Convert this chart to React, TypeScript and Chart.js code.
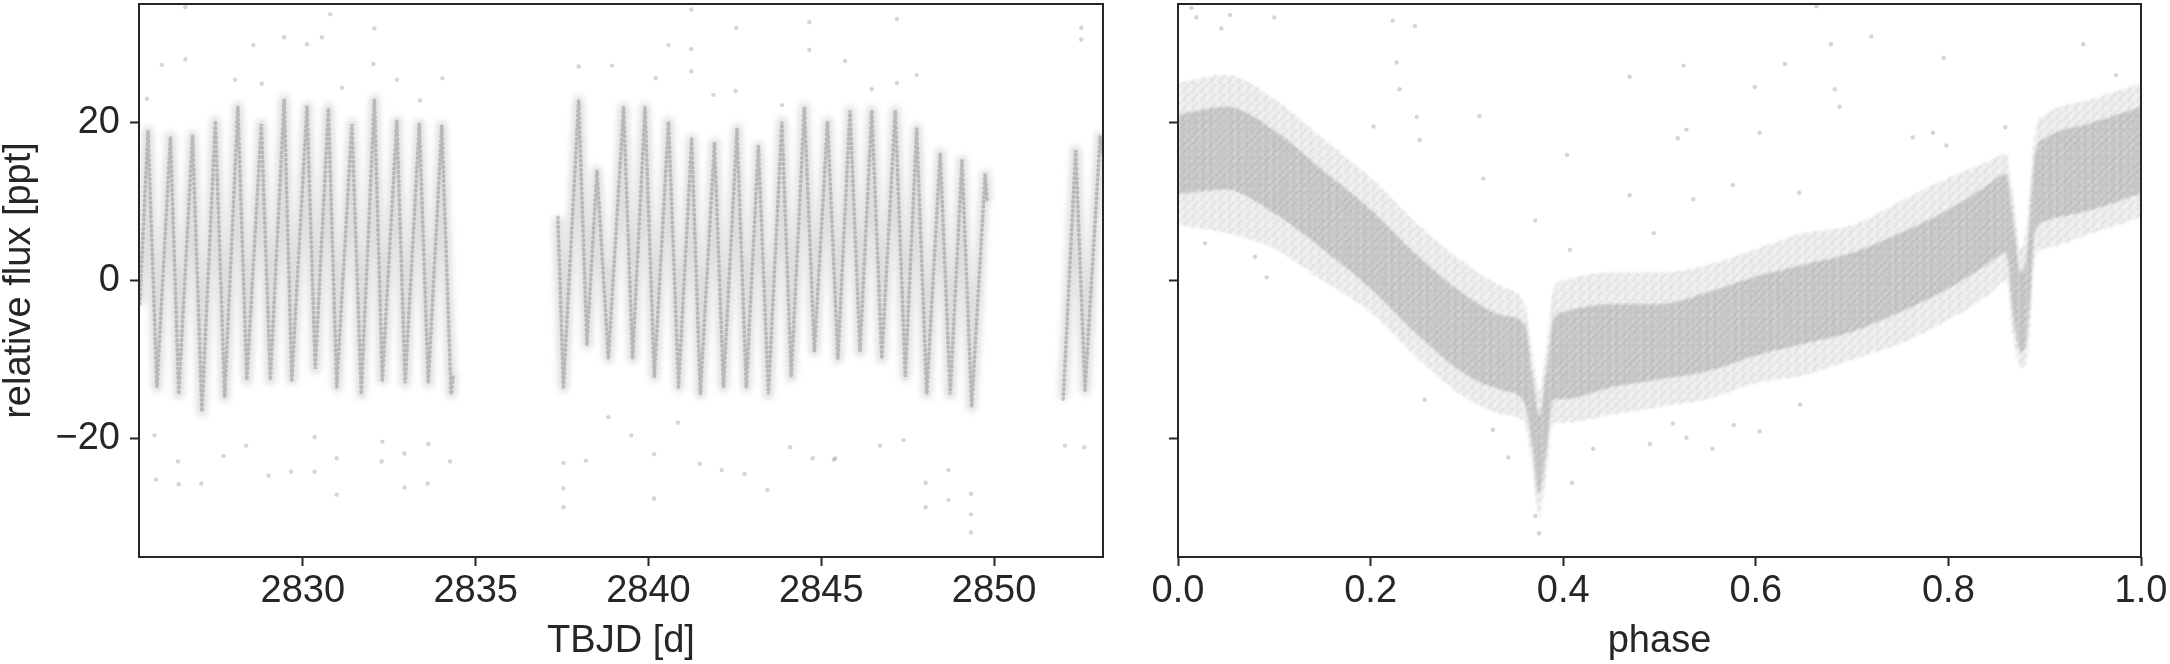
import React, { useEffect, useRef } from 'react';
import { Chart, registerables } from 'chart.js';

// soft-focus helper: registered before the built-ins so it runs before the filler
const blurPlugin = {
  id: 'aaBlurFx',
  beforeDatasetDraw(chart: any, args: any) {
    const ds = chart.data.datasets[args.index];
    if (ds && ds.blurPx) chart.ctx.filter = 'blur(' + ds.blurPx + 'px)';
  },
  afterDatasetDraw(chart: any) {
    chart.ctx.filter = 'none';
  },
};
Chart.register(blurPlugin as any);
Chart.register(...registerables);

// ---------- left panel: light curve (extrema) ----------
const seg1Time = [2825.28, 2825.52, 2825.78, 2826.17, 2826.41, 2826.81, 2827.08, 2827.47, 2827.74, 2828.12, 2828.38, 2828.80, 2829.06, 2829.46, 2829.68, 2830.12, 2830.36, 2830.74, 2830.98, 2831.42, 2831.69, 2832.07, 2832.30, 2832.72, 2832.96, 2833.37, 2833.63, 2834.02, 2834.29, 2834.35];
const seg1Flux = [-3, 18.9, -13.5, 18.2, -14.4, 18.4, -16.6, 20.2, -14.8, 22.0, -12.6, 19.8, -12.6, 22.9, -12.6, 22.0, -11.2, 21.8, -13.5, 19.8, -14.4, 22.9, -12.6, 20.2, -13.0, 19.8, -13.0, 19.6, -14.4, -12];

const seg2Time = [2837.38, 2837.54, 2837.98, 2838.22, 2838.51, 2838.84, 2839.28, 2839.54, 2839.90, 2840.17, 2840.58, 2840.87, 2841.25, 2841.50, 2841.91, 2842.17, 2842.56, 2842.83, 2843.18, 2843.47, 2843.86, 2844.13, 2844.51, 2844.80, 2845.18, 2845.48, 2845.83, 2846.12, 2846.46, 2846.75, 2847.14, 2847.43, 2847.76, 2848.05, 2848.44, 2848.73, 2849.07, 2849.35, 2849.74, 2849.80];
const seg2Flux = [8.0, -13.5, 22.8, -8.1, 13.9, -9.9, 21.9, -9.9, 21.9, -12.2, 20.1, -13.5, 17.9, -14.4, 17.4, -13.5, 19.2, -13.5, 17.0, -14.4, 20.1, -12.2, 21.9, -9.0, 20.1, -9.9, 21.5, -9.0, 21.5, -9.9, 21.5, -12.2, 19.2, -14.4, 16.1, -14.4, 15.2, -16.0, 13.4, 10];

const seg3Time = [2852.00, 2852.36, 2852.63, 2853.07, 2853.15];
const seg3Flux = [-15, 16.5, -13.9, 18.3, 16];

const lcOutTime = [2826.60, 2830.79, 2832.07, 2829.46, 2825.92, 2826.60, 2828.57, 2830.12, 2830.55, 2832.04, 2825.49, 2828.04, 2828.81, 2832.72, 2833.39, 2834.04, 2831.13,
  2825.75, 2826.41, 2827.06, 2827.71, 2828.36, 2829.01, 2829.66, 2830.34, 2830.98, 2832.28, 2832.94, 2833.61, 2834.26, 2825.71, 2826.39, 2830.34, 2830.98, 2832.30, 2832.94, 2833.63,
  2841.24, 2841.24, 2840.58, 2842.54, 2844.65, 2844.65, 2837.98, 2838.94, 2840.21, 2841.24, 2841.88, 2842.52, 2843.86,
  2837.54, 2837.54, 2837.54, 2838.19, 2838.84, 2839.50, 2840.16, 2840.16, 2840.85, 2841.48, 2842.12, 2842.78, 2843.44, 2844.10, 2844.75, 2845.36,
  2847.19, 2845.69, 2847.76, 2847.19, 2852.52, 2852.52, 2846.46,
  2845.40, 2846.70, 2847.38, 2848.02, 2848.02, 2848.68, 2848.68, 2849.33, 2849.33, 2849.33, 2852.05, 2852.61];
const lcOutFlux = [34.6, 33.7, 31.9, 30.8, 27.3, 28.0, 29.8, 29.9, 30.8, 27.4, 23.0, 25.4, 24.9, 25.4, 22.8, 25.6, 24.4,
  -25.2, -25.8, -25.7, -22.2, -20.9, -24.7, -24.2, -24.2, -27.1, -22.9, -26.2, -25.7, -22.9, -19.6, -22.9, -19.8, -22.5, -20.4, -21.9, -20.7,
  34.3, 29.3, 29.8, 32.0, 32.7, 29.2, 27.1, 27.2, 25.6, 26.5, 23.5, 24.0, 22.2,
  -28.7, -26.3, -23.1, -22.8, -17.3, -19.6, -27.6, -22.0, -18.0, -23.2, -24.0, -24.5, -26.5, -21.1, -22.5, -22.7,
  33.1, 27.8, 26.0, 25.0, 30.5, 32.0, 24.2,
  -22.5, -20.9, -20.2, -28.7, -25.6, -27.8, -24.0, -31.9, -29.6, -27.0, -20.9, -21.1];

// ---------- right panel: phase-folded curve ----------
const phaseGrid = [0, 0.05, 0.10, 0.15, 0.20, 0.25, 0.30, 0.34, 0.36, 0.368, 0.375, 0.382, 0.39, 0.40, 0.45, 0.50, 0.55, 0.60, 0.65, 0.70, 0.75, 0.80, 0.84, 0.86, 0.867, 0.875, 0.882, 0.89, 0.90, 0.95, 1.00];
const coreUpper = [21, 22, 19, 14, 9, 3, -2, -4.5, -5.5, -12, -17, -12, -5, -4, -3, -3, -1.5, 0.5, 2, 3.5, 6, 9, 12, 13.5, 8, 1, 4, 16, 18, 20, 22];
const coreLower = [11, 11.5, 8.5, 4, -1, -7, -12, -14, -15.5, -21, -27, -22, -15, -15, -13.5, -12.5, -11.5, -9.5, -8, -6.5, -4, -1, 2, 3.5, -4, -9, -7, 6, 7.5, 9, 11];
const haloUpper = [25, 26, 23, 18, 13, 7, 2, -1, -3, -9, -14, -9, -1, 0, 1, 1, 2, 4, 6, 7, 10, 13, 15, 16, 11, 4, 8, 19, 21, 23, 25];
const haloLower = [7, 6, 4, 0, -4, -10, -15, -17, -18, -24, -30, -25, -18, -18, -17, -16, -15, -13, -12, -10, -8, -5, -2, 0, -7, -11, -10, 3, 4, 6, 8];

const phOutPhase = [0.014, 0.019, 0.054, 0.100, 0.045, 0.223, 0.246, 0.227, 0.230, 0.248, 0.313, 0.203, 0.251, 0.317, 0.404, 0.371, 0.407, 0.469, 0.469, 0.494, 0.092, 0.080, 0.028, 0.256, 0.343, 0.409, 0.431, 0.490, 0.375, 0.371, 0.327,
  0.663, 0.720, 0.678, 0.795, 0.940, 0.974, 0.630, 0.525, 0.599, 0.682, 0.687, 0.519, 0.604, 0.528, 0.763, 0.784, 0.798, 0.859, 0.576, 0.535, 0.645, 0.528, 0.555, 0.604, 0.577, 0.646, 0.514];
const phOutFlux = [34.5, 33.3, 33.6, 33.3, 31.9, 32.9, 32.2, 27.6, 24.2, 20.7, 20.8, 19.5, 17.8, 12.9, 15.9, 7.6, 3.9, 25.8, 10.8, 6.0, 0.4, 3.0, 4.7, -15.1, -22.4, -25.6, -21.3, -20.7, -32.0, -29.8, -18.9,
  34.7, 30.9, 29.9, 28.2, 29.9, 26.0, 27.4, 27.2, 24.5, 24.2, 22.0, 18.0, 18.7, 19.1, 18.1, 18.7, 17.1, 19.4, 12.1, 10.3, 11.1, -19.9, -21.3, -19.1, -18.3, -15.7, -18.1];

// ---------- axes ----------
const timeTicks = [2830, 2835, 2840, 2845, 2850];
const phaseTicks = [0, 0.2, 0.4, 0.6, 0.8, 1.0];
const fluxTicks = [-20, 0, 20];
const timeRange = [2825.26, 2853.15];
const phaseRange = [0, 1];
const fluxRange = [-35, 35];

const INK = '#262626';
const FONT = '"Liberation Sans", Arial, Helvetica, sans-serif';

const zip = (xs: number[], ys: number[]) =>
  xs.slice(0, Math.min(xs.length, ys.length)).map((x, i) => ({ x, y: ys[i] }));

const framePlugin = {
  id: 'frame',
  afterDraw(chart: any) {
    const { ctx, chartArea } = chart;
    const { left, top, right, bottom } = chartArea;
    ctx.save();
    ctx.filter = 'none';
    ctx.strokeStyle = INK;
    ctx.lineWidth = 2;
    ctx.strokeRect(left, top, right - left, bottom - top);
    ctx.restore();
  },
};

function makePattern(size: number, dots: number[][], base: string, dot: string, r: number) {
  const c = document.createElement('canvas');
  c.width = size;
  c.height = size;
  const g = c.getContext('2d')!;
  g.fillStyle = base;
  g.fillRect(0, 0, size, size);
  g.fillStyle = dot;
  for (const [x, y] of dots) {
    g.beginPath();
    g.arc(x, y, r, 0, Math.PI * 2);
    g.fill();
  }
  return g.createPattern(c, 'repeat') as CanvasPattern;
}

function fluxLabel(v: number) {
  return v < 0 ? '\u2212' + Math.abs(v) : String(v);
}

function baseScales(xTicks: number[], xRange: number[], xTitle: string, xFmt: (v: number) => string, yWidth: number, showY: boolean) {
  const tickFont = { family: FONT, size: 38, lineHeight: 1 };
  return {
    x: {
      type: 'linear',
      min: xRange[0],
      max: xRange[1],
      afterBuildTicks: (s: any) => { s.ticks = xTicks.map((v) => ({ value: v })); },
      afterFit: (s: any) => { s.height = 107; s.paddingLeft = 0; s.paddingRight = 0; },
      grid: { display: true, drawOnChartArea: false, drawTicks: true, tickLength: 9, tickWidth: 2, tickColor: INK },
      border: { display: false },
      ticks: { color: INK, font: tickFont, padding: 7, maxRotation: 0, autoSkip: false, callback: (v: any) => xFmt(Number(v)) },
      title: { display: true, text: xTitle, color: INK, font: { family: FONT, size: 38, lineHeight: 1 }, padding: { top: 0, bottom: 3 } },
    },
    y: {
      type: 'linear',
      min: fluxRange[0],
      max: fluxRange[1],
      afterBuildTicks: (s: any) => { s.ticks = fluxTicks.map((v) => ({ value: v })); },
      afterFit: (s: any) => { s.width = yWidth; s.paddingTop = 0; s.paddingBottom = 0; },
      grid: { display: true, drawOnChartArea: false, drawTicks: true, tickLength: 9, tickWidth: 2, tickColor: INK },
      border: { display: false },
      ticks: { display: showY, color: INK, font: tickFont, padding: 10, callback: (v: any) => fluxLabel(Number(v)) },
      title: { display: showY, text: 'relative flux [ppt]', color: INK, font: { family: FONT, size: 38, lineHeight: 1 }, padding: { top: 1, bottom: 0 } },
    },
  };
}

export default function App() {
  const leftRef = useRef<HTMLCanvasElement>(null);
  const rightRef = useRef<HTMLCanvasElement>(null);

  useEffect(() => {
    if (!leftRef.current || !rightRef.current) return;

    const segs = [zip(seg1Time, seg1Flux), zip(seg2Time, seg2Flux), zip(seg3Time, seg3Flux)];
    const lcDatasets: any[] = [];
    segs.forEach((d) => {
      lcDatasets.push({
        data: d, showLine: true, pointRadius: 0, borderColor: 'rgba(145,145,145,0.30)', borderWidth: 10,
        borderJoinStyle: 'round', tension: 0, blurPx: 3,
      });
      lcDatasets.push({
        data: d, showLine: true, pointRadius: 0, borderColor: 'rgba(100,100,100,0.36)', borderWidth: 3.8,
        borderDash: [0.5, 4.2], borderCapStyle: 'round', tension: 0, blurPx: 0.4,
      });
    });
    lcDatasets.push({
      data: zip(lcOutTime, lcOutFlux), showLine: false, pointRadius: 2.2, pointBorderWidth: 0,
      pointBackgroundColor: 'rgba(115,115,115,0.3)',
    });

    const left = new Chart(leftRef.current, {
      type: 'line',
      data: { datasets: lcDatasets },
      options: {
        animation: false,
        responsive: false,
        devicePixelRatio: 1,
        layout: { padding: { top: 1, right: 7, bottom: 0, left: 0 } },
        plugins: { legend: { display: false }, tooltip: { enabled: false } },
        scales: baseScales(timeTicks, timeRange, 'TBJD [d]', (v) => String(v), 139, true) as any,
      },
      plugins: [framePlugin],
    });

    const haloPat = makePattern(9, [[1.5, 2], [6, 4.5], [3, 7.5]], 'rgba(178,178,178,0.18)', 'rgba(120,120,120,0.40)', 1.1);
    const corePat = makePattern(7, [[1.5, 1.5], [5, 3.5], [2.5, 5.5]], 'rgba(135,135,135,0.30)', 'rgba(85,85,85,0.38)', 1.1);

    const right = new Chart(rightRef.current, {
      type: 'line',
      data: {
        datasets: [
          { data: zip(phaseGrid, haloUpper), pointRadius: 0, borderWidth: 0, fill: false, cubicInterpolationMode: 'monotone' },
          { data: zip(phaseGrid, haloLower), pointRadius: 0, borderWidth: 0, fill: '-1', backgroundColor: haloPat, cubicInterpolationMode: 'monotone', blurPx: 1.3 },
          { data: zip(phaseGrid, coreUpper), pointRadius: 0, borderWidth: 0, fill: false, cubicInterpolationMode: 'monotone' },
          { data: zip(phaseGrid, coreLower), pointRadius: 0, borderWidth: 0, fill: '-1', backgroundColor: corePat, cubicInterpolationMode: 'monotone', blurPx: 0.9 },
          {
            data: zip(phOutPhase, phOutFlux), showLine: false, pointRadius: 2.2, pointBorderWidth: 0,
            pointBackgroundColor: 'rgba(115,115,115,0.3)',
          },
        ] as any,
      },
      options: {
        animation: false,
        responsive: false,
        devicePixelRatio: 1,
        layout: { padding: { top: 1, right: 29, bottom: 0, left: 0 } },
        plugins: { legend: { display: false }, tooltip: { enabled: false } },
        scales: baseScales(phaseTicks, phaseRange, 'phase', (v) => v.toFixed(1), 68, false) as any,
      },
      plugins: [framePlugin],
    });

    return () => {
      left.destroy();
      right.destroy();
    };
  }, []);

  return (
    <div style={{ position: 'absolute', left: 0, top: 0, width: 2170, height: 664, background: '#fff', overflow: 'hidden' }}>
      <canvas ref={leftRef} width={1110} height={664} style={{ position: 'absolute', left: 0, top: 0, width: 1110, height: 664 }} />
      <canvas ref={rightRef} width={1060} height={664} style={{ position: 'absolute', left: 1110, top: 0, width: 1060, height: 664 }} />
    </div>
  );
}
